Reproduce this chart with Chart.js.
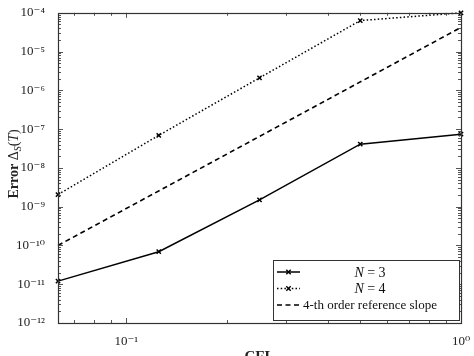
<!DOCTYPE html>
<html>
<head>
<meta charset="utf-8">
<script src="https://cdn.jsdelivr.net/npm/chart.js@4.4.1/dist/chart.umd.min.js"></script>
<style>
html,body{margin:0;padding:0;background:#fff;}
#wrap{width:474px;height:356px;position:relative;}
</style>
</head>
<body>
<div id="wrap"><canvas id="c" width="474" height="356"></canvas></div>
<script>
// ---- data ----
const cfl = [0.0625, 0.125, 0.25, 0.5, 1];
const errN3 = [1.2e-11, 6.9e-11, 1.5e-9, 4.1e-8, 7.4e-8];
const errN4 = [2.05e-9, 6.9e-8, 2.1e-6, 6.3e-5, 1.0e-4];
const refX = [0.0625, 1];
const refSlope = [1.0e-10, 4.2e-5];
const seriesLabels = ['N = 3', 'N = 4', '4-th order reference slope'];
const xTitle = 'CFL';
const yTitleBold = 'Error';
const xRange = [0.0625, 1];
const yRange = [1e-12, 1e-4];

const SUP = {'-':'\u207B','0':'\u2070','1':'\u00B9','2':'\u00B2','3':'\u00B3','4':'\u2074','5':'\u2075','6':'\u2076','7':'\u2077','8':'\u2078','9':'\u2079'};
function powLabel(v){
  const e = Math.log10(v);
  const r = Math.round(e);
  if (Math.abs(e - r) > 1e-6) return '';
  return '10' + String(r).split('').map(c => SUP[c]).join('');
}
function isDecadeTick(v){
  const e = Math.floor(Math.log10(v) + 1e-9);
  const m = v / Math.pow(10, e);
  const rm = Math.round(m);
  if (Math.abs(m - rm) > 1e-6) return null;
  return rm === 1 || rm === 10 ? 'major' : 'minor';
}
const pts = (xs, ys) => xs.map((x, i) => ({x, y: ys[i]}));

const SERIF = '"Liberation Serif", "DejaVu Serif", serif';

const framePlugin = {
  id: 'frame',
  afterDatasetsDraw(chart) {
    const {ctx, chartArea: a} = chart;
    const xs = chart.scales.x, ys = chart.scales.y;
    ctx.save();
    ctx.strokeStyle = '#555';
    ctx.lineWidth = 1;
    ctx.beginPath();
    xs.ticks.forEach(t => {
      const k = isDecadeTick(t.value); if (!k) return;
      const px = Math.round(xs.getPixelForValue(t.value)) + 0.5;
      const L = k === 'major' ? 5 : 3;
      ctx.moveTo(px, a.bottom); ctx.lineTo(px, a.bottom - L);
      ctx.moveTo(px, a.top); ctx.lineTo(px, a.top + L);
    });
    ys.ticks.forEach(t => {
      const k = isDecadeTick(t.value); if (!k) return;
      const py = Math.round(ys.getPixelForValue(t.value)) + 0.5;
      const L = k === 'major' ? 5 : 3;
      ctx.moveTo(a.left, py); ctx.lineTo(a.left + L, py);
      ctx.moveTo(a.right, py); ctx.lineTo(a.right - L, py);
    });
    ctx.stroke();
    ctx.strokeStyle = '#333';
    ctx.lineWidth = 1.2;
    ctx.strokeRect(Math.round(a.left) + 0.5, Math.round(a.top) + 0.5, Math.round(a.right - a.left), Math.round(a.bottom - a.top));
    ctx.restore();
  },
  afterDraw(chart) {
    const {ctx, chartArea: a} = chart;
    const ds = chart.data.datasets;
    ctx.save();
    // legend box
    const bx = a.right - 188, by = a.bottom - 63, bw = 186, bh = 60;
    ctx.fillStyle = '#fff';
    ctx.fillRect(bx, by, bw, bh);
    ctx.strokeStyle = '#333';
    ctx.lineWidth = 1;
    ctx.strokeRect(bx + 0.5, by + 0.5, bw, bh);
    const rows = [by + 12, by + 28.5, by + 45];
    ds.forEach((d, i) => {
      const y = rows[i];
      ctx.strokeStyle = '#000';
      ctx.lineWidth = d.borderWidth;
      ctx.setLineDash(d.borderDash || []);
      ctx.beginPath(); ctx.moveTo(bx + 4, y); ctx.lineTo(bx + 27, y); ctx.stroke();
      ctx.setLineDash([]);
      if (d.pointRadius > 0) {
        const cx = bx + 15.5, r = 2.2;
        ctx.lineWidth = 1.4;
        ctx.beginPath();
        ctx.moveTo(cx - r, y - r); ctx.lineTo(cx + r, y + r);
        ctx.moveTo(cx + r, y - r); ctx.lineTo(cx - r, y + r);
        ctx.stroke();
      }
      ctx.fillStyle = '#111';
      ctx.textBaseline = 'middle';
      if (i < 2) {
        const parts = d.label.split(' = ');
        ctx.font = 'italic 14px ' + SERIF;
        const w1 = ctx.measureText(parts[0]).width;
        ctx.font = '14px ' + SERIF;
        const mid = ' = ' + parts[1];
        const w2 = ctx.measureText(mid).width;
        const cx = bx + 97;
        let x0 = cx - (w1 + w2) / 2;
        ctx.textAlign = 'left';
        ctx.font = 'italic 14px ' + SERIF;
        ctx.fillText(parts[0], x0, y + 1);
        ctx.font = '14px ' + SERIF;
        ctx.fillText(mid, x0 + w1, y + 1);
      } else {
        ctx.font = '13px ' + SERIF;
        ctx.textAlign = 'left';
        ctx.fillText(d.label, bx + 30, y + 1);
      }
    });
    // x title
    ctx.fillStyle = '#222';
    ctx.font = 'bold 15px ' + SERIF;
    ctx.textAlign = 'center';
    ctx.textBaseline = 'alphabetic';
    ctx.fillText(xTitle, (a.left + a.right) / 2, a.bottom + 38);
    // y title (rotated, mixed fonts)
    ctx.translate(18, (a.top + a.bottom) / 2 - 4);
    ctx.rotate(-Math.PI / 2);
    ctx.textBaseline = 'alphabetic';
    ctx.textAlign = 'left';
    const segs = [
      {t: yTitleBold + ' ', f: 'bold 14px ' + SERIF, dy: 0},
      {t: '\u0394', f: '14px ' + SERIF, dy: 0},
      {t: 'S', f: 'italic 10px ' + SERIF, dy: 3},
      {t: '(', f: '14px ' + SERIF, dy: 0},
      {t: 'T', f: 'italic 14px ' + SERIF, dy: 0},
      {t: ')', f: '14px ' + SERIF, dy: 0}
    ];
    let total = 0;
    segs.forEach(s => { ctx.font = s.f; s.w = ctx.measureText(s.t).width; total += s.w; });
    let x = -total / 2;
    segs.forEach(s => { ctx.font = s.f; ctx.fillText(s.t, x, s.dy); x += s.w; });
    ctx.restore();
  }
};

new Chart(document.getElementById('c'), {
  type: 'scatter',
  data: {
    datasets: [
      {label: seriesLabels[0], data: pts(cfl, errN3), showLine: true, borderColor: '#000', backgroundColor: '#000',
       borderWidth: 1.5, pointStyle: 'crossRot', pointRadius: 3, pointBorderWidth: 1.5, clip: false},
      {label: seriesLabels[1], data: pts(cfl, errN4), showLine: true, borderColor: '#000', backgroundColor: '#000',
       borderWidth: 1.5, borderDash: [1.5, 2.2], pointStyle: 'crossRot', pointRadius: 3, pointBorderWidth: 1.5, clip: false},
      {label: seriesLabels[2], data: pts(refX, refSlope), showLine: true, borderColor: '#000', backgroundColor: '#000',
       borderWidth: 1.6, borderDash: [5, 3.5], pointRadius: 0, clip: false}
    ]
  },
  options: {
    responsive: false,
    animation: false,
    layout: {padding: {left: 0, top: 4, right: 13, bottom: 0}},
    plugins: {legend: {display: false}, tooltip: {enabled: false}},
    scales: {
      x: {
        type: 'logarithmic', min: xRange[0], max: xRange[1],
        grid: {display: false}, border: {display: false},
        afterFit: s => { s.height = 33; },
        ticks: {autoSkip: false, maxRotation: 0, padding: 3, color: '#222',
          font: {family: SERIF, size: 13}, callback: v => powLabel(v)}
      },
      y: {
        type: 'logarithmic', min: yRange[0], max: yRange[1],
        grid: {display: false}, border: {display: false},
        afterFit: s => { s.width = 58; },
        ticks: {autoSkip: false, padding: 5, color: '#222',
          font: {family: SERIF, size: 13}, callback: v => powLabel(v)}
      }
    }
  },
  plugins: [framePlugin]
});
</script>
</body>
</html>
